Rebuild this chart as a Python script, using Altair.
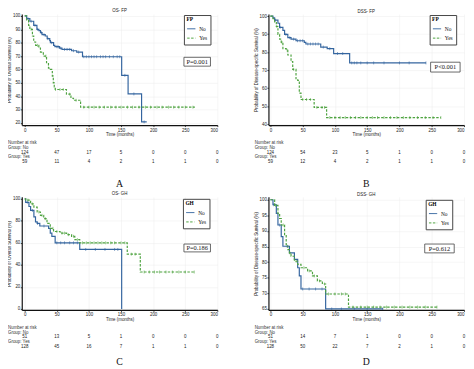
import altair as alt
import pandas as pd

GROUPS = ["No", "Yes"]
BLUE = "#34659f"
GREEN = "#4ea340"
X_TICKS = [0, 50, 100, 150, 200, 250, 300]
RISK_ROWS = ["Number at risk", "Group: No", "No", "Group: Yes", "Yes"]

# ---------- Panel A : OS - FP ----------
A_no_t = [0, 3, 8, 14, 19, 22, 24.5, 27, 32, 35, 39, 40, 45, 47, 54, 58, 73, 81, 90, 151, 161, 182, 190]
A_no_s = [100, 98, 96, 93, 90, 89, 87.5, 86, 85, 83, 81.5, 80, 78, 77, 76, 75, 74, 73, 69.5, 55.6, 41.7, 20.8, 20.8]
A_yes_t = [0, 3, 6, 8, 12, 14, 17, 22, 24.5, 29, 34, 37, 40, 43, 44.5, 46, 47.5, 65, 72, 76, 87, 265]
A_yes_s = [100, 97, 93, 90, 85, 80.5, 78, 76, 73, 70, 65, 61, 60, 55, 50, 47, 45, 41.5, 38.5, 37, 31.8, 31.8]
A_no_cens = [5, 10, 16, 20, 26, 30, 36, 42, 50, 52, 56, 62, 66, 70, 76, 84, 92, 96, 100, 104, 108, 112, 118, 122, 126, 132, 138, 144, 148, 156, 170, 186]
A_yes_cens = [10, 20, 33, 48, 55, 60, 70, 80, 92, 100, 108, 116, 124, 134, 142, 150, 160, 168, 178, 188, 196, 206, 214, 224, 232, 240, 250, 262]
A_risk_no = [124, 47, 17, 5, 0, 0, 0]
A_risk_yes = [59, 11, 4, 2, 1, 1, 0]

# ---------- Panel B : DSS - FP ----------
B_no_t = [0, 4, 6.6, 11.7, 14.3, 19.4, 22, 27, 32, 39.7, 52.5, 55, 78, 88, 98, 122.8, 241]
B_no_s = [100, 99, 97.7, 96, 93.7, 92, 89.8, 88, 87.2, 86.3, 85.4, 84.5, 82.8, 81.9, 79.2, 74, 74]
B_yes_t = [0, 4, 6.6, 9.2, 11.7, 14.3, 16.8, 19.4, 24.5, 27, 32, 34.6, 39.7, 42.3, 44.8, 47.4, 67.8, 87.1, 264]
B_yes_s = [100, 98.6, 96.8, 94.2, 89.8, 87.2, 85.4, 81.9, 81, 78.4, 74.8, 70.4, 65.2, 64.3, 57.2, 53.7, 49.3, 43.7, 43.7]
B_no_cens = [8, 15, 24, 30, 36, 42, 46, 50, 58, 62, 66, 70, 74, 82, 92, 104, 112, 126, 130, 134, 140, 150, 160, 176, 200, 215, 241]
B_yes_cens = [10, 18, 26, 36, 50, 56, 62, 72, 80, 84, 92, 100, 108, 116, 124, 132, 140, 150, 158, 166, 176, 186, 196, 206, 216, 228, 240, 252, 264]
B_risk_no = [124, 54, 23, 5, 1, 0, 0]
B_risk_yes = [59, 12, 4, 2, 1, 1, 0]

# ---------- Panel C : OS - GH ----------
C_no_t = [0, 1.5, 6.6, 9.2, 14.3, 16.8, 19.4, 23.5, 37.2, 39.8, 42.3, 47.4, 85.7, 151]
C_no_s = [100, 96.8, 93, 89.4, 83.5, 79, 77.6, 75.3, 73.2, 68.8, 65.9, 60, 54, 0]
C_yes_t = [0, 1.5, 9.2, 14.3, 19.4, 24.5, 29.6, 34.7, 39.8, 44.9, 55.1, 65.3, 73, 78, 85.7, 159.7, 180, 264]
C_yes_s = [100, 98.8, 95.3, 92.4, 88, 85, 82, 77.6, 73.2, 70.3, 68.8, 67.4, 65.9, 62.9, 60, 49.7, 33.5, 33.5]
C_no_cens = [4, 12, 20, 30, 50, 56, 62, 70, 76, 82, 95, 110, 125, 140, 145]
C_yes_cens = [5, 12, 22, 27, 32, 44, 50, 58, 62, 68, 76, 82, 90, 96, 102, 108, 114, 120, 126, 134, 140, 150, 156, 166, 172, 186, 194, 202, 210, 220, 230, 240, 250, 264]
C_risk_no = [51, 13, 5, 1, 0, 0, 0]
C_risk_yes = [128, 45, 16, 7, 1, 1, 0]

# ---------- Panel D : DSS - GH ----------
D_no_t = [0, 4, 9.2, 11.7, 16.8, 19.4, 29.5, 37.2, 42.3, 44.8, 47.4, 85.6, 174.7]
D_no_s = [100, 98.4, 95.6, 91.9, 88.2, 85.1, 83, 80.9, 78.2, 75.6, 71.4, 65, 65]
D_yes_t = [0, 6.6, 11.7, 14.3, 16.8, 22, 24.5, 27, 29.5, 32, 37.2, 42.3, 47.4, 57.6, 65.2, 72.8, 80.5, 85.6, 121, 258.8]
D_yes_s = [100, 98.2, 95.6, 94, 91.9, 88.8, 85.6, 84, 83, 81.9, 80.3, 79.3, 78.2, 77.2, 75.6, 74, 73, 69.8, 65.6, 65.6]
D_no_cens = [5, 14, 26, 50, 60, 70, 80, 95, 110, 130, 150, 174]
D_yes_cens = [8, 20, 30, 40, 52, 60, 68, 76, 84, 90, 100, 110, 116, 128, 140, 150, 160, 170, 180, 192, 204, 216, 228, 240, 258]
D_risk_no = [51, 14, 7, 1, 0, 0, 0]
D_risk_yes = [128, 50, 22, 7, 2, 1, 0]


def step_at(ts, ss, t):
    v = ss[0]
    for ti, si in zip(ts, ss):
        if ti <= t:
            v = si
    return v


PW = 199
FS = 4.5


def panel(title, ytitle, ltitle, ptext, xdom, ydom, yticks, curves, cens, risk, letter, legxy, pbox, ph, loff):
    lrows, crows = [], []
    for g, (ts, ss) in zip(GROUPS, curves):
        for t, s in zip(ts, ss):
            lrows.append({"group": g, "t": t, "s": s})
    for g, (ts, ss), cts in zip(GROUPS, curves, cens):
        for t in cts:
            crows.append({"group": g, "t": t, "s": step_at(ts, ss, t)})
    ldf = pd.DataFrame(lrows)
    cdf = pd.DataFrame(crows)

    xs = alt.Scale(domain=xdom, nice=False, zero=False)
    ys = alt.Scale(domain=ydom, nice=False, zero=False)
    x = alt.X("t:Q", scale=xs, axis=alt.Axis(values=X_TICKS, title="Time (months)", format="d"))
    y = alt.Y("s:Q", scale=ys, axis=alt.Axis(values=yticks, title=ytitle, format="d"))
    leg = alt.Legend(title=ltitle, orient="none", legendX=legxy[0], legendY=legxy[1],
                     strokeColor="#444", fillColor="white", padding=2.5,
                     titleFont="Liberation Serif", titleFontSize=5.5, titleFontWeight="bold",
                     labelFont="Liberation Serif", labelFontSize=5.5, labelColor="#111",
                     symbolType="stroke", symbolSize=70, symbolStrokeWidth=1,
                     rowPadding=0.5, titlePadding=1, labelOffset=3)
    color = alt.Color("group:N", scale=alt.Scale(domain=GROUPS, range=[BLUE, GREEN]), legend=leg)
    dash = alt.StrokeDash("group:N", scale=alt.Scale(domain=GROUPS, range=[[1, 0], [2.5, 1.5]]), legend=leg)

    lines = alt.Chart(ldf).mark_line(interpolate="step-after", strokeWidth=1.2, clip=True).encode(
        x=x, y=y, color=color, strokeDash=dash, order="t:Q")
    ticks = alt.Chart(cdf).mark_point(shape="M0,-1L0,1", size=9, strokeWidth=0.6, filled=False,
                                      opacity=1, clip=True).encode(
        x=x, y=y, color=alt.Color("group:N", scale=alt.Scale(domain=GROUPS, range=[BLUE, GREEN]), legend=None))
    pdf = pd.DataFrame({"p": [ptext]})
    box = alt.Chart(pdf).mark_rect(fill="white", stroke="#444", strokeWidth=0.8).encode(
        x=alt.value(pbox[0]), x2=alt.value(pbox[1]), y=alt.value(pbox[2]), y2=alt.value(pbox[3]))
    ptxt = alt.Chart(pdf).mark_text(font="Liberation Serif", fontSize=6.5, color="#111").encode(
        x=alt.value((pbox[0] + pbox[1]) / 2), y=alt.value((pbox[2] + pbox[3]) / 2 + 0.3), text="p:N")

    km = alt.layer(lines, ticks, box, ptxt).properties(
        width=PW, height=ph,
        title=alt.TitleParams(title, fontSize=FS, fontWeight="normal", offset=0, color="#222"))

    rrows = []
    for g, vals in zip(GROUPS, risk):
        for t, n in zip(X_TICKS, vals):
            rrows.append({"row": g, "t": t, "n": n})
    rdf = pd.DataFrame(rrows)
    labdf = pd.DataFrame({"row": ["Number at risk", "Group: No", "Group: Yes"]})
    ry = alt.Y("row:N", scale=alt.Scale(domain=RISK_ROWS), axis=None)
    vals = alt.Chart(rdf).mark_text(fontSize=FS, color="#222").encode(
        x=alt.X("t:Q", scale=alt.Scale(domain=xdom, nice=False, zero=False), axis=None),
        y=ry, text="n:Q")
    labs = alt.Chart(labdf).mark_text(fontSize=FS, align="left", color="#333").encode(
        x=alt.value(-14), y=ry, text="row:N")
    riskc = alt.layer(vals, labs).properties(
        width=PW, height=24,
        title=alt.TitleParams(letter, orient="bottom", fontSize=10, font="Liberation Serif",
                              fontWeight="normal", offset=loff, color="#111"))
    return alt.vconcat(km, riskc, spacing=3)


A = panel("OS- FP", "Probability of Overall Survival (%)", "FP", "P=0.001",
          [-4.6, 300], [18.4, 101.4], [20, 30, 40, 50, 60, 70, 80, 90, 100],
          [(A_no_t, A_no_s), (A_yes_t, A_yes_s)], [A_no_cens, A_yes_cens],
          [A_risk_no, A_risk_yes], "A", (165, 1), (165, 192, 44, 53), 113, 15)
B = panel("DSS- FP", "Probability of Disease-specific Survival (%)", "FP", "P<0.001",
          [-3, 300], [39.5, 101.1], [40, 50, 60, 70, 80, 90, 100],
          [(B_no_t, B_no_s), (B_yes_t, B_yes_s)], [B_no_cens, B_yes_cens],
          [B_risk_no, B_risk_yes], "B", (164, 1), (165, 195, 49, 59), 113, 15)
C = panel("OS- GH", "Probability of Overall Survival (%)", "GH", "P=0.186",
          [-4.6, 300], [-0.9, 101.75], [0, 20, 40, 60, 80, 100],
          [(C_no_t, C_no_s), (C_yes_t, C_yes_s)], [C_no_cens, C_yes_cens],
          [C_risk_no, C_risk_yes], "C", (164, 2), (165, 192, 48, 56), 115, 8)
D = panel("DSS- GH", "Probability of Disease-specific Survival (%)", "GH", "P=0.612",
          [-3, 300], [64.7, 100.93], [65, 70, 75, 80, 85, 90, 95, 100],
          [(D_no_t, D_no_s), (D_yes_t, D_yes_s)], [D_no_cens, D_yes_cens],
          [D_risk_no, D_risk_yes], "D", (160, 3), (159, 189, 48, 57), 115, 8)

IND = dict(color="independent", strokeDash="independent")
top = alt.hconcat(A, B, spacing=34).resolve_scale(**IND).resolve_legend(**IND)
bottom = alt.hconcat(C, D, spacing=34).resolve_scale(**IND).resolve_legend(**IND)

chart = alt.vconcat(top, bottom, spacing=2).resolve_scale(**IND).resolve_legend(**IND).properties(
    padding={"top": -3, "left": -2, "right": 0, "bottom": 0}).configure_view(stroke=None).configure_axis(
    domainColor="#111", domainWidth=1.2, tickColor="#111", tickSize=1.5, tickWidth=0.8,
    labelFontSize=FS, titleFontSize=FS, titleFontWeight="normal", labelColor="#222",
    titleColor="#222", labelPadding=0.5, titlePadding=0.5, gridColor="#ececec", gridWidth=0.5,
    labelFont="Liberation Sans", titleFont="Liberation Sans"
)

chart.save("out.html", embed_options={"renderer": "svg", "actions": False})
